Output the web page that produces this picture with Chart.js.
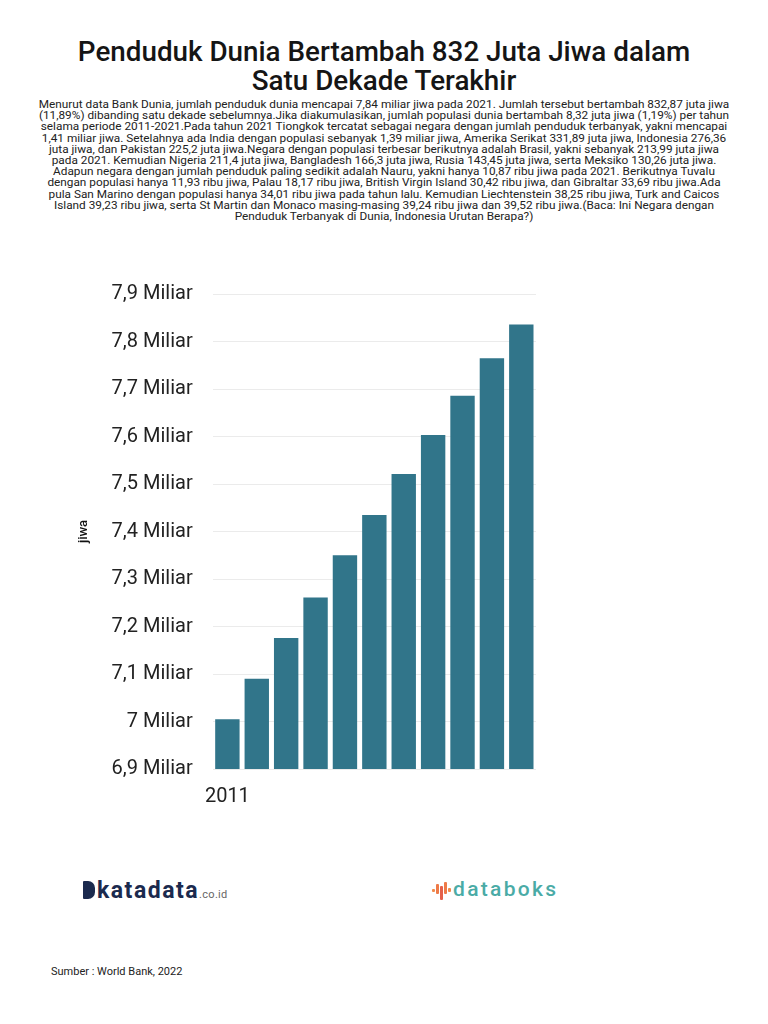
<!DOCTYPE html>
<html>
<head>
<meta charset="utf-8">
<script src="https://cdn.jsdelivr.net/npm/chart.js@4.4.0/dist/chart.umd.min.js"></script>
<style>
  html, body { margin: 0; padding: 0; background: #fff; }
  body { width: 768px; height: 1024px; position: relative; font-family: Roboto, "Noto Sans", sans-serif; color: #111; }
  h1 { position: absolute; top: 37px; left: 0; width: 768px; margin: 0; text-align: center;
       font-size: 27.8px; font-weight: 500; line-height: 29px; color: #151515; }
  .desc { position: absolute; top: 99px; left: 0; width: 768px; text-align: center;
          font-size: 11.8px; line-height: 11.2px; color: #222; }
  .chart-box { position: absolute; left: 76px; top: 262px; width: 484px; height: 563px; }
  .logo-kd { position: absolute; left: 83px; top: 877px; font-size: 23px; font-weight: 700; color: #1b2a4e; letter-spacing: 1.5px; }
  .logo-kd .d { display: inline-block; width: 12px; height: 18px; background: #1b2a4e; border-radius: 1px 7px 7px 1px; vertical-align: -1px; margin-right: 2px; }
  .logo-kd small { font-size: 11px; font-weight: 400; color: #666; letter-spacing: 0.3px; }
  .logo-db { position: absolute; left: 432px; top: 877px; font-size: 21px; font-weight: 500; color: #4aaba6; letter-spacing: 2.3px; }
  .logo-db .ic { display: inline-block; width: 20px; height: 20px; position: relative; vertical-align: -4px; margin-right: 1px; }
  .logo-db .ic i { position: absolute; width: 2.5px; border-radius: 1px; }
  .src { position: absolute; left: 51px; top: 965px; font-size: 11px; color: #222; }
</style>
</head>
<body>
<h1>Penduduk Dunia Bertambah 832 Juta Jiwa dalam<br>Satu Dekade Terakhir</h1>
<div class="desc">
Menurut data Bank Dunia, jumlah penduduk dunia mencapai 7,84 miliar jiwa pada 2021. Jumlah tersebut bertambah 832,87 juta jiwa<br>
(11,89%) dibanding satu dekade sebelumnya.Jika diakumulasikan, jumlah populasi dunia bertambah 8,32 juta jiwa (1,19%) per tahun<br>
selama periode 2011-2021.Pada tahun 2021 Tiongkok tercatat sebagai negara dengan jumlah penduduk terbanyak, yakni mencapai<br>
1,41 miliar jiwa. Setelahnya ada India dengan populasi sebanyak 1,39 miliar jiwa, Amerika Serikat 331,89 juta jiwa, Indonesia 276,36<br>
juta jiwa, dan Pakistan 225,2 juta jiwa.Negara dengan populasi terbesar berikutnya adalah Brasil, yakni sebanyak 213,99 juta jiwa<br>
pada 2021. Kemudian Nigeria 211,4 juta jiwa, Bangladesh 166,3 juta jiwa, Rusia 143,45 juta jiwa, serta Meksiko 130,26 juta jiwa.<br>
Adapun negara dengan jumlah penduduk paling sedikit adalah Nauru, yakni hanya 10,87 ribu jiwa pada 2021. Berikutnya Tuvalu<br>
dengan populasi hanya 11,93 ribu jiwa, Palau 18,17 ribu jiwa, British Virgin Island 30,42 ribu jiwa, dan Gibraltar 33,69 ribu jiwa.Ada<br>
pula San Marino dengan populasi hanya 34,01 ribu jiwa pada tahun lalu. Kemudian Liechtenstein 38,25 ribu jiwa, Turk and Caicos<br>
Island 39,23 ribu jiwa, serta St Martin dan Monaco masing-masing 39,24 ribu jiwa dan 39,52 ribu jiwa.(Baca: Ini Negara dengan<br>
Penduduk Terbanyak di Dunia, Indonesia Urutan Berapa?)
</div>
<div class="chart-box"><canvas id="popChart"></canvas></div>
<div class="logo-kd"><span class="d"></span>katadata<small>.co.id</small></div>
<div class="logo-db"><span class="ic">
  <i style="left:0;top:9px;height:3px;background:#f08a4b"></i>
  <i style="left:4px;top:4px;height:10px;background:#ee7a48"></i>
  <i style="left:8px;top:6px;height:14px;background:#e5604a"></i>
  <i style="left:12px;top:2px;height:12px;background:#ee7a48"></i>
  <i style="left:16px;top:8px;height:4px;background:#f08a4b"></i>
</span>databoks</div>
<div class="src">Sumber : World Bank, 2022</div>
<script>
// world population, in miliar (billion) jiwa
const years = ['2011', '2012', '2013', '2014', '2015', '2016', '2017', '2018', '2019', '2020', '2021'];
const population = [7.005, 7.090, 7.176, 7.261, 7.350, 7.435, 7.521, 7.603, 7.686, 7.765, 7.836];
const yMin = 6.9;
const yMax = 7.9;

document.addEventListener('DOMContentLoaded', function() {
    const ctx = document.getElementById('popChart').getContext('2d');
    new Chart(ctx, {
        type: 'bar',
        data: {
            labels: years,
            datasets: [{
                label: 'Penduduk',
                data: population,
                backgroundColor: '#31758a',
                borderWidth: 0,
                barPercentage: 0.83,
                categoryPercentage: 1
            }]
        },
        options: {
            responsive: true,
            maintainAspectRatio: false,
            animation: false,
            layout: { padding: { top: 10, right: 24, bottom: 0, left: 0 } },
            plugins: {
                legend: { display: false },
                tooltip: { enabled: false }
            },
            scales: {
                x: {
                    grid: { display: false, drawTicks: false },
                    border: { display: false },
                    ticks: {
                        color: '#222',
                        font: { family: 'Roboto', size: 20 },
                        padding: 16,
                        maxRotation: 0,
                        autoSkip: false,
                        // only the first year is labelled in the original
                        callback: function(val, i) { return i === 0 ? this.getLabelForValue(val) : ''; }
                    }
                },
                y: {
                    min: yMin,
                    max: yMax,
                    grid: { color: '#ebebeb', drawTicks: false },
                    border: { display: false },
                    title: {
                        display: true,
                        text: 'jiwa',
                        color: '#111',
                        font: { family: 'Roboto', size: 13, weight: '500' },
                        padding: { top: 0, bottom: 0 }
                    },
                    ticks: {
                        stepSize: 0.1,
                        padding: 20,
                        color: '#222',
                        font: { family: 'Roboto', size: 20 },
                        callback: v => Number(v.toFixed(1)).toString().replace('.', ',') + ' Miliar'
                    }
                }
            }
        }
    });
});
</script>
</body>
</html>
